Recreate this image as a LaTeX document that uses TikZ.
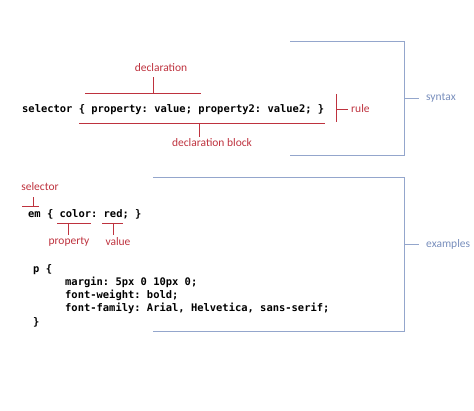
\documentclass[tikz,border=0pt]{standalone}
\usepackage{fontspec}
\setmainfont{Carlito}
\setmonofont{DejaVu Sans Mono}
\usepackage{tikz}
\usetikzlibrary{positioning}
\definecolor{labelred}{RGB}{190,50,62}
\definecolor{bracketblue}{RGB}{148,166,204}
\definecolor{bluetext}{RGB}{120,142,188}

\begin{document}
\begin{tikzpicture}[
    x=1pt, y=-1pt,
    code/.style={anchor=base west, inner sep=0pt, font=\ttfamily\bfseries\fontsize{10.45}{12}\selectfont},
    redlabel/.style={text=labelred, inner sep=0pt, font=\fontsize{11.5}{13}\selectfont},
    bluelabel/.style={text=bluetext, anchor=west, inner sep=0pt, font=\fontsize{11.5}{13}\selectfont},
    redline/.style={draw=labelred, line width=0.9pt},
    blueline/.style={draw=bracketblue, line width=0.9pt}
]
\useasboundingbox (0,0) rectangle (474,411);

% syntax
\node[code] (rulecode) at (22,112.5) {selector \{ property: value; property2: value2; \}};
\draw[redline] (85,93) -- (201,93) (153,93) -- (153,77);
\node[redlabel] (decl) at (161,68) {declaration};
\draw[redline] (79,123) -- (325,123) (199,123) -- (199,137);
\node[redlabel] (declblock) at (212,143) {declaration block};
\draw[redline] (336,94) -- (336,122) (336,109) -- (348,109);
\node[redlabel, anchor=west] (rule) at (351,109) {rule};
\draw[blueline] (290,41) -| (404,155) -- (290,155) (404,98) -- (419,98);
\node[bluelabel] (syntax) at (426,98) {syntax};

% examples
\node[code] (emcode) at (28,217.5) {em \{ color: red; \}};
\node[redlabel] (sel) at (40,187) {selector};
\draw[redline] (22,206) -- (39,206) (33,206) -- (33,197);
\draw[redline] (57,223) -- (91,223) (68,223) -- (68,235);
\node[redlabel] (prop) at (69,242) {property};
\draw[redline] (102,223) -- (123,223) (113,223) -- (113,235);
\node[redlabel] (val) at (118,242) {value};

\node[code] (popen) at (33,272.5) {p \{};
\node[code] (margin) at (65,285.5) {margin: 5px 0 10px 0;};
\node[code] (weight) at (65,298.5) {font-weight: bold;};
\node[code] (family) at (65,311.5) {font-family: Arial, Helvetica, sans-serif;};
\node[code] (pclose) at (33,325.5) {\}};

\draw[blueline] (153,177) -| (404,331) -- (153,331) (404,244) -- (419,244);
\node[bluelabel] (examples) at (426,244) {examples};
\end{tikzpicture}
\end{document}
